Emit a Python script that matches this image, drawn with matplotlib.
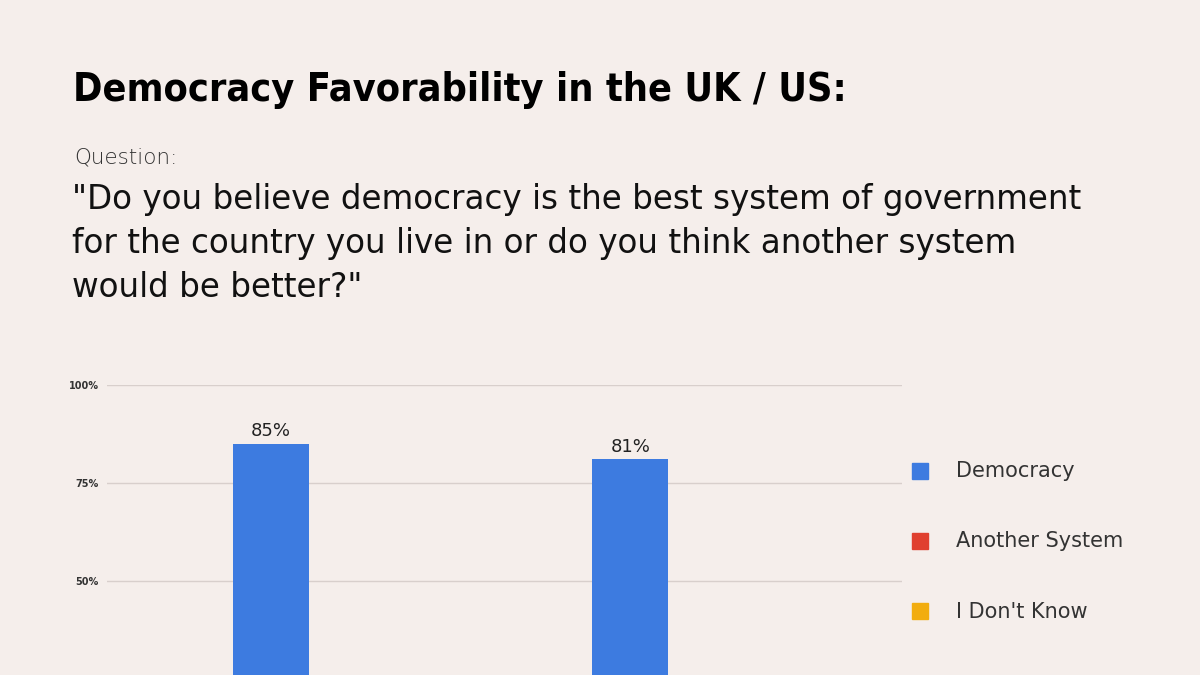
import matplotlib
matplotlib.use("Agg")
import matplotlib.pyplot as plt
import numpy as np

# data
countries = ["UK", "US"]
series = ["Democracy", "Another System", "I Don't Know"]
democracy = [85, 81]
another_system = [6, 8]     # hidden below the crop, estimated
dont_know = [9, 11]         # hidden below the crop, estimated
yticks = [50, 75, 100]
ytick_labels = ["50%", "75%", "100%"]
colors = ["#3d7be0", "#e0402f", "#f2ad0f"]

bg = "#f5eeeb"
fig = plt.figure(figsize=(12, 6.75), dpi=100, facecolor=bg)

# title and question
fig.text(0.061, 0.866, "Democracy Favorability in the UK / US:", fontsize=28.4,
         fontweight="heavy", family="DejaVu Sans", fontstretch="condensed",
         color="black", va="center")
fig.text(0.062, 0.766, "Question:", fontsize=15.5, family="DejaVu Sans",
         fontweight="light", color="#333333", va="center")
fig.text(0.060, 0.639,
         '"Do you believe democracy is the best system of government\n'
         'for the country you live in or do you think another system\n'
         'would be better?"',
         fontsize=23.5, family="DejaVu Sans", color="#111111", va="center",
         linespacing=1.42)

# axes extend past the bottom edge so that the picture is cropped like the original
ax = fig.add_axes([0.089, -0.151, 0.663, 0.5807])
ax.set_facecolor(bg)
x = np.arange(len(countries))
w = 0.2117
vals = [democracy, another_system, dont_know]
for i, (name, v) in enumerate(zip(series, vals)):
    bars = ax.bar(x + (i - 1) * w, v, width=w, color=colors[i], label=name, zorder=3)
    if i == 0:
        for b, val in zip(bars, v):
            ax.text(b.get_x() + b.get_width() / 2, val + 1.0, f"{val}%",
                    ha="center", va="bottom", fontsize=13, family="DejaVu Sans",
                    color="#222222")

ax.set_ylim(0, 100)
ax.set_xlim(-0.669, 1.546)
ax.set_yticks(yticks)
ax.set_yticklabels(ytick_labels, fontsize=7, fontweight="bold", color="#333333")
ax.tick_params(axis="y", length=0, pad=6)
ax.set_xticks([])
ax.grid(axis="y", color="#d8cfcc", linewidth=1, zorder=0)
for s in ax.spines.values():
    s.set_visible(False)

# legend
leg_y = [0.302, 0.198, 0.094]
for name, c, yy in zip(series, colors, leg_y):
    fig.patches.append(plt.Rectangle((0.760, yy - 0.011), 0.0133, 0.0237,
                                     transform=fig.transFigure, color=c))
    fig.text(0.797, yy, name, fontsize=15, family="DejaVu Sans",
             color="#333333", va="center")

fig.savefig("out.png", dpi=100, facecolor=bg)
